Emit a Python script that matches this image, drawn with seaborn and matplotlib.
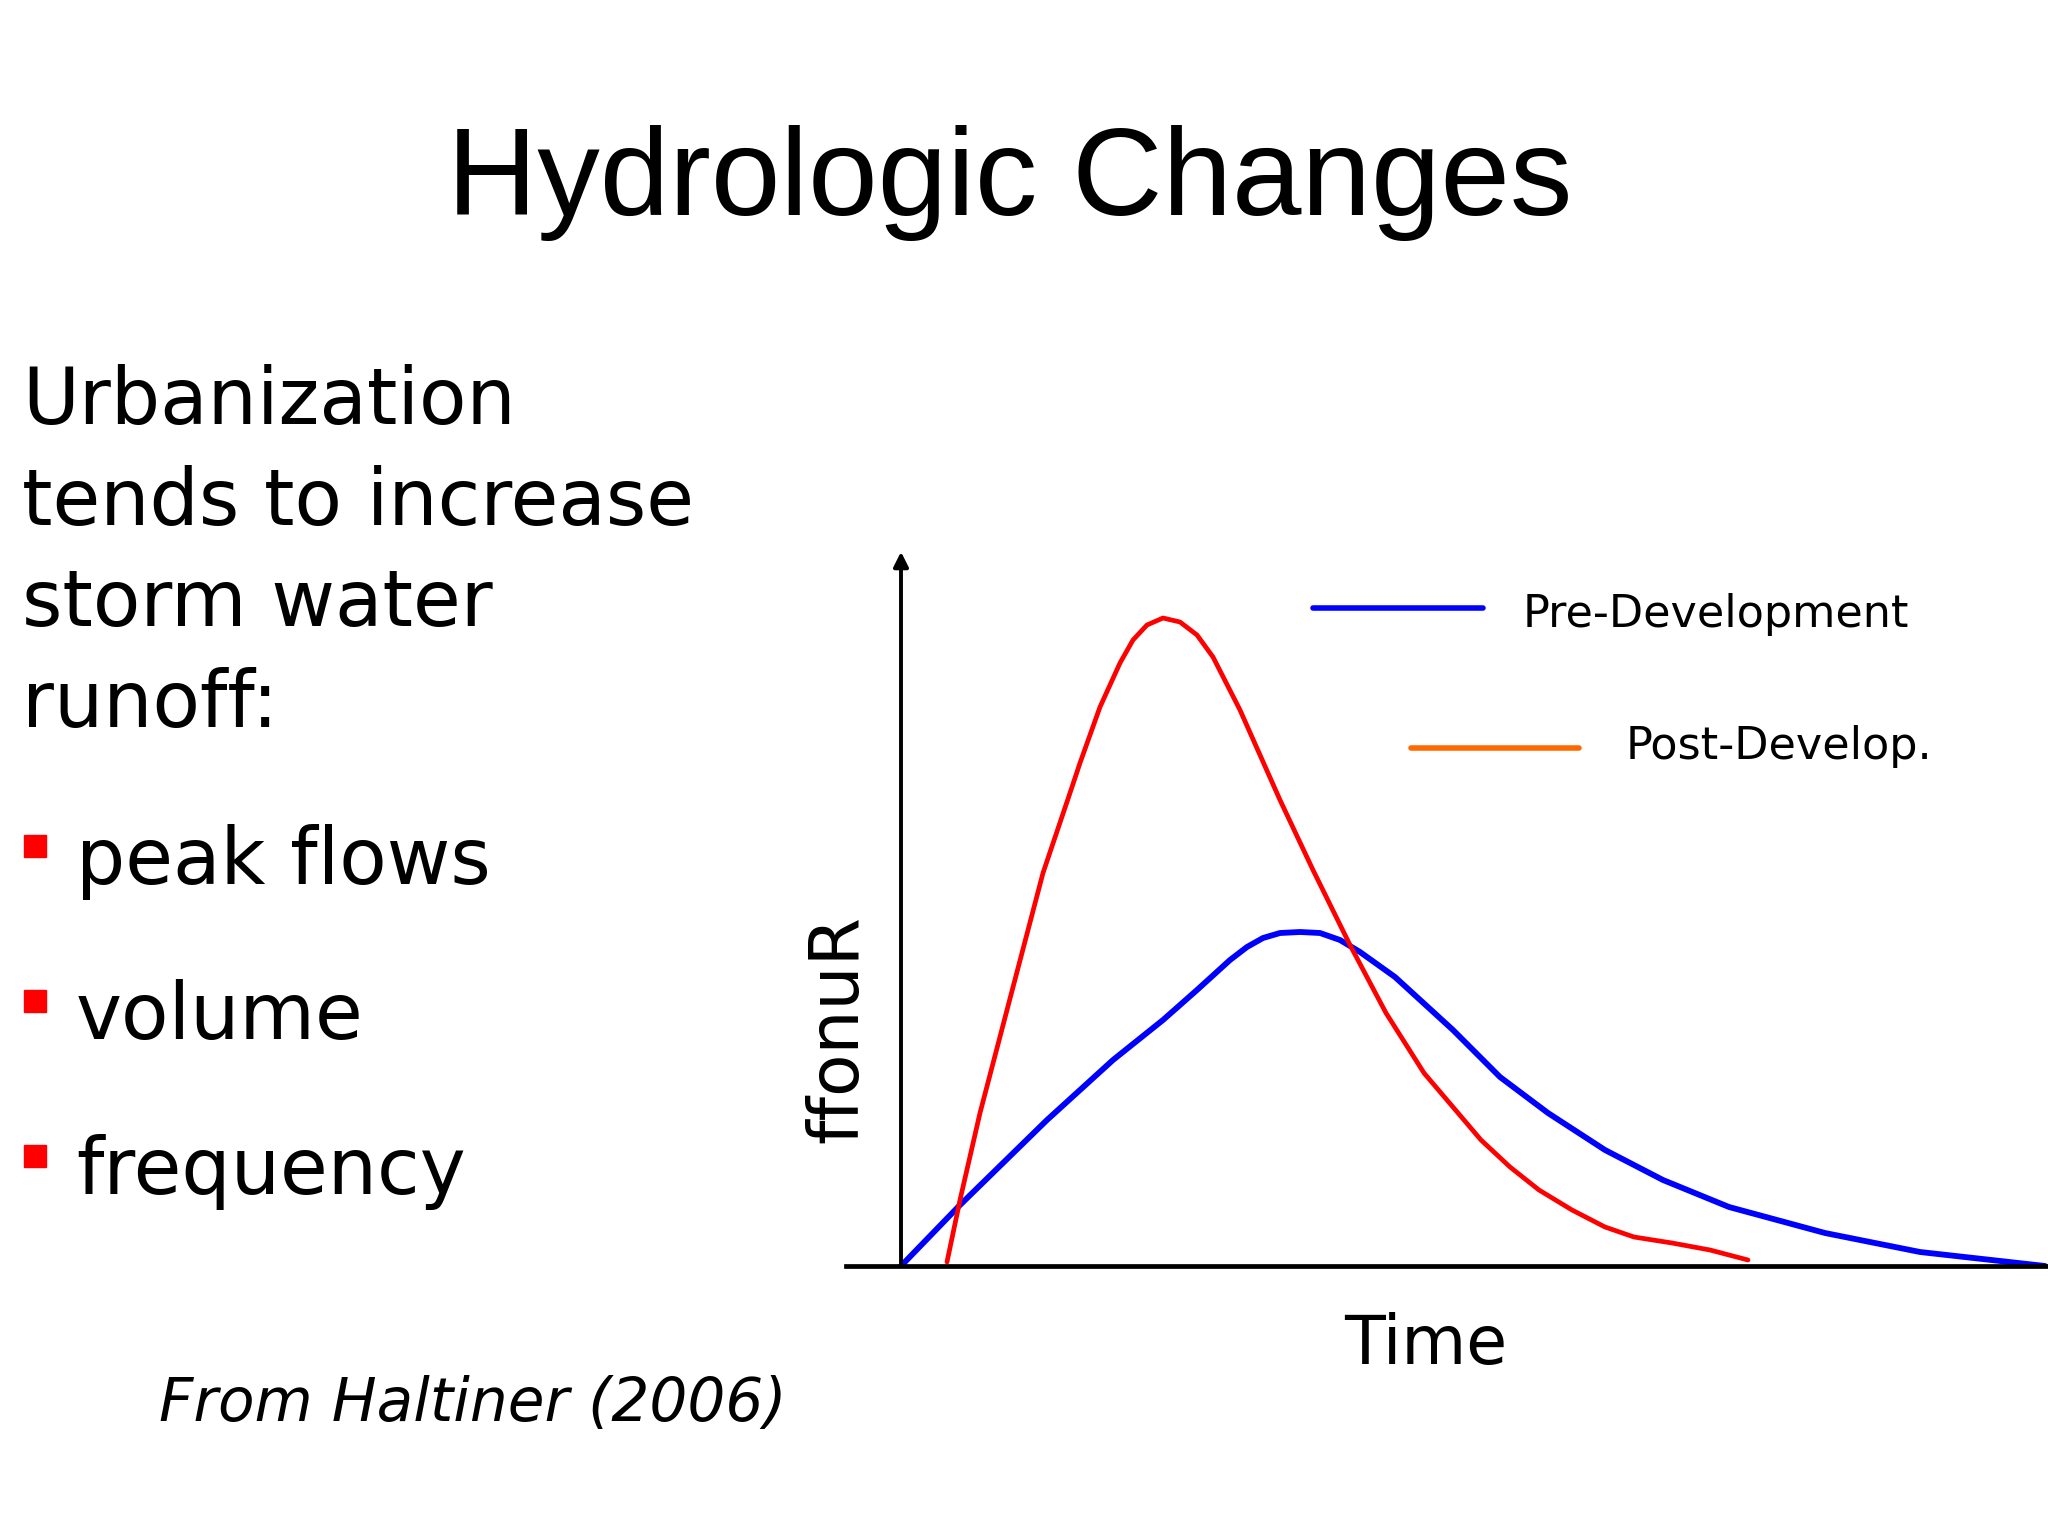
import matplotlib
matplotlib.use('Agg')
from matplotlib import pyplot as plt
from matplotlib.patches import Rectangle
from matplotlib.lines import Line2D
import seaborn as sns

# hydrograph values (time / runoff in arbitrary units)
time_pre = [0.0, 0.59, 1.46, 2.12, 2.62, 2.96, 3.29, 3.46, 3.62, 3.79, 3.99, 4.19, 4.39,
            4.59, 4.94, 5.52, 5.99, 6.47, 7.04, 7.62, 8.28, 9.24, 10.19, 11.44]
runoff_pre = [0.0, 0.61, 1.46, 2.06, 2.46, 2.76, 3.06, 3.19, 3.28, 3.33, 3.34, 3.33, 3.26,
              3.14, 2.89, 2.36, 1.89, 1.53, 1.16, 0.86, 0.59, 0.33, 0.14, 0.0]

time_post = [0.46, 0.59, 0.79, 1.06, 1.42, 1.70, 1.79, 1.99, 2.19, 2.32, 2.46, 2.62, 2.79,
             2.96, 3.12, 3.39, 3.79, 4.12, 4.49, 4.85, 5.23, 5.80, 6.09, 6.38, 6.71, 7.04,
             7.33, 7.71, 8.09, 8.47]
runoff_post = [0.04, 0.66, 1.53, 2.56, 3.93, 4.76, 5.03, 5.59, 6.03, 6.26, 6.41, 6.48, 6.44,
               6.31, 6.09, 5.56, 4.66, 3.96, 3.21, 2.53, 1.93, 1.26, 0.99, 0.76, 0.56, 0.39,
               0.29, 0.23, 0.16, 0.06]

legend_labels = ['Pre-Development', 'Post-Develop.']
intro_lines = ['Urbanization', 'tends to increase', 'storm water', 'runoff:']
bullets = ['peak flows', 'volume', 'frequency']

sns.set_theme(style='white')
plt.rcParams['font.family'] = ['DejaVu Sans']
plt.rcParams['text.color'] = 'black'

W, H = 2048, 1536
fig = plt.figure(figsize=(20.48, 15.36), dpi=100)
fig.patch.set_facecolor('white')

def fx(px):
    return px / W

def fy(py):
    return 1 - py / H

# axes: left edge at x-axis start, bottom at the x axis
ax_l, ax_r, ax_b, ax_t = 846, 2048, 1266, 549
ax = fig.add_axes([fx(ax_l), fy(ax_b), (ax_r - ax_l) / W, (ax_b - ax_t) / H])
ax.set_xlim((ax_l - 901) / 100, (ax_r - 901) / 100)
ax.set_ylim(0, (ax_b - ax_t) / 100)
ax.set_facecolor('none')

sns.lineplot(x=time_pre, y=runoff_pre, ax=ax, color='#0000ff', lw=4.2, estimator=None)
sns.lineplot(x=time_post, y=runoff_post, ax=ax, color='#ff0000', lw=3.4, estimator=None)

for s in ['top', 'right', 'left']:
    ax.spines[s].set_visible(False)
ax.spines['bottom'].set_color('black')
ax.spines['bottom'].set_linewidth(3.4)
ax.set_xticks([])
ax.set_yticks([])
ax.annotate('', xy=(0, ax.get_ylim()[1]), xytext=(0, 0),
            arrowprops=dict(arrowstyle='-|>', lw=2.8, color='black', mutation_scale=22),
            annotation_clip=False)

# hand-drawn style legend
fig.add_artist(Line2D([fx(1313), fx(1483)], [fy(608), fy(608)], color='#0000ff', lw=4))
fig.add_artist(Line2D([fx(1411), fx(1579)], [fy(748), fy(748)], color='#ff6a00', lw=4))
fig.text(fx(1523), fy(615), legend_labels[0], fontsize=32, va='center', ha='left')
fig.text(fx(1626), fy(747), legend_labels[1], fontsize=32, va='center', ha='left')

fig.text(fx(1426), fy(1345), 'Time', fontsize=48, ha='center', va='center')
fig.text(fx(838), fy(1029), 'ffonuR', fontsize=50, rotation=90, ha='center', va='center')

fig.text(fx(1010), fy(215), 'Hydrologic Changes', fontsize=90, ha='center', va='baseline',
         family=['Liberation Sans', 'DejaVu Sans'])

for i, line in enumerate(intro_lines):
    fig.text(fx(22), fy(424 + 101 * i), line, fontsize=56, ha='left', va='baseline')

for i, b in enumerate(bullets):
    cy = 846 + 155 * i
    fig.add_artist(Rectangle((fx(24), fy(cy + 11)), 22 / W, 22 / H,
                             transform=fig.transFigure, color='#ff0000'))
    fig.text(fx(76), fy(cy + 38), b, fontsize=56, ha='left', va='baseline')

fig.text(fx(159), fy(1421), 'From Haltiner (2006)', fontsize=43, style='italic',
         ha='left', va='baseline')

fig.savefig('out.png', dpi=100, facecolor='white')
